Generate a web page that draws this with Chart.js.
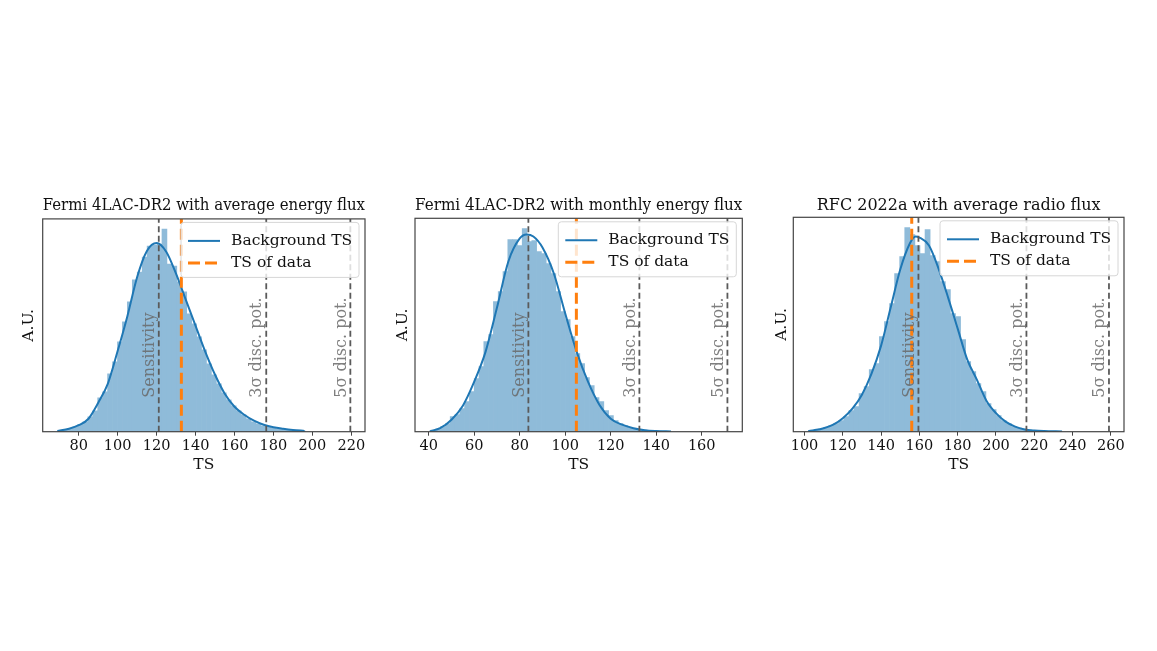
<!DOCTYPE html>
<html lang="en">
<head>
<meta charset="UTF-8">
<title>TS distributions</title>
<script src="https://cdn.jsdelivr.net/npm/chart.js"></script>
<style>
  body { margin: 0; background: #fff; width: 1157px; height: 651px; position: relative; overflow: hidden; }
  .panel { position: absolute; }
</style>
</head>
<body>
<div class="panel" style="left:10px; top:190px;"><canvas id="c1" width="365" height="290"></canvas></div>
<div class="panel" style="left:383px; top:190px;"><canvas id="c2" width="370" height="290"></canvas></div>
<div class="panel" style="left:762px; top:190px;"><canvas id="c3" width="372" height="290"></canvas></div>

<script>
// ---- data ----
const titles = [
  'Fermi 4LAC-DR2 with average energy flux',
  'Fermi 4LAC-DR2 with monthly energy flux',
  'RFC 2022a with average radio flux'
];
const lineLabels = ['Sensitivity', '3\u03c3 disc. pot.', '5\u03c3 disc. pot.'];

// panel 1
const ticks1 = [80, 100, 120, 140, 160, 180, 200, 220];
const histRange1 = [69.4, 196.4];
const hist1 = [1, 2, 3.5, 5, 7.5, 10, 15, 21, 34, 40,
               58, 70, 90, 110, 130, 152, 160, 175, 186, 187,
               188, 203, 168, 166, 150, 140, 118, 108, 95, 82,
               68, 57, 48, 39, 32, 26, 21, 17, 13, 10,
               8, 6, 5, 4, 3, 2.3, 1.7, 1.2, 0.8, 0.5];
const curveX1 = [69, 75, 80, 85, 90, 95, 100, 105, 110, 115, 120, 125, 130, 135, 140, 145, 150, 155, 160, 165, 170, 175, 180, 185, 190, 196];
const curveY1 = [0.7, 3, 6.5, 13, 29, 48.5, 81, 116, 155, 181, 189, 180, 158, 132, 106, 80, 57, 38, 25, 17, 11, 7, 4.5, 3, 1.8, 0.8];
const sens1 = 121.1, data1 = 132.7, disc3_1 = 176.3, disc5_1 = 219.5;

// panel 2
const ticks2 = [40, 60, 80, 100, 120, 140, 160];
const histRange2 = [41, 146.5];
const hist2 = [1.5, 2.5, 5, 8, 15, 17, 23, 30, 40, 53,
               65, 90, 97, 130, 140, 160, 192, 192, 186, 203,
               190, 191, 180, 178, 168, 158, 140, 120, 112, 95,
               78, 68, 54, 46, 34, 30, 21, 16, 11, 8,
               6, 4, 3, 2, 1.5, 1, 0.7, 0.5, 0.3, 0.3];
const curveX2 = [40.5, 45, 50, 55, 60, 65, 70, 75, 80, 83, 86, 90, 95, 100, 105, 110, 115, 120, 125, 130, 135, 140, 146.5];
const curveY2 = [0.5, 3.5, 12, 26, 50, 80, 124, 170, 193, 197, 195, 184, 158, 118, 80, 50, 27, 13, 7, 3.5, 1.5, 0.7, 0.3];
const sens2 = 83.8, data2 = 104.9, disc3_2 = 132.6, disc5_2 = 171.3;

// panel 3
const ticks3 = [100, 120, 140, 160, 180, 200, 220, 240, 260];
const histRange3 = [102, 234.5];
const hist3 = [1, 1.5, 2.5, 4, 6, 8, 11, 15, 21, 25,
               38, 45, 62, 68, 95, 110, 128, 158, 175, 204,
               197, 186, 178, 202, 176, 170, 150, 142, 118, 115,
               92, 70, 60, 48, 40, 28, 22, 16, 11, 8,
               5, 3.5, 2.5, 1.5, 1, 0.7, 0.5, 0.3, 0.2, 0.2];
const curveX3 = [102, 105, 110, 115, 120, 125, 130, 135, 140, 145, 150, 155, 158, 160, 165, 170, 175, 180, 185, 190, 195, 200, 205, 210, 215, 220, 225, 234.5];
const curveY3 = [0.7, 1.5, 3.5, 7, 13.5, 23, 37, 58, 86, 124, 162, 188, 195, 194, 186, 163, 134, 103, 72, 52, 31, 18.5, 10, 5, 2.3, 1.2, 0.7, 0.3];
const sens3 = 159.5, data3 = 156.0, disc3_3 = 215.9, disc5_3 = 259;

const FONT = '"DejaVu Serif", serif';
const BLUE = '#1f77b4', ORANGE = '#ff7f0e', GREY = '#5a5a5a';
const HIST = '#8fbbd9'; // tab:blue at alpha 0.5 on white

// frame around the plot area (matplotlib spines)
const frame = {
  id: 'frame',
  afterDatasetsDraw(chart) {
    const {ctx, chartArea: a} = chart;
    ctx.save();
    ctx.strokeStyle = '#444';
    ctx.lineWidth = 1.2;
    ctx.strokeRect(a.left, a.top, a.right - a.left, a.bottom - a.top);
    ctx.restore();
  }
};

// rotated labels next to the grey lines
const annotate = {
  id: 'annotate',
  afterDatasetsDraw(chart, args, opts) {
    const {ctx, chartArea: a, scales: {x}} = chart;
    ctx.save();
    ctx.font = '16px ' + FONT;
    ctx.fillStyle = 'rgba(105,105,105,0.85)';
    ctx.textAlign = 'left';
    ctx.textBaseline = 'bottom';
    opts.values.forEach((v, i) => {
      ctx.save();
      ctx.translate(x.getPixelForValue(v) - 1, a.bottom - 34);
      ctx.rotate(-Math.PI / 2);
      ctx.fillText(lineLabels[i], 0, 0);
      ctx.restore();
    });
    ctx.restore();
  }
};

// legend box in the upper right corner
const legendBox = {
  id: 'legendBox',
  afterDraw(chart) {
    const {ctx, chartArea: a} = chart;
    const w = 178, h = 55;
    const x0 = a.right - 6 - w, y0 = a.top + 3.5;
    ctx.save();
    ctx.beginPath();
    ctx.roundRect(x0, y0, w, h, 3);
    ctx.fillStyle = 'rgba(255,255,255,0.8)';
    ctx.fill();
    ctx.strokeStyle = '#d6d6d6';
    ctx.lineWidth = 1;
    ctx.stroke();

    ctx.lineWidth = 2;
    ctx.strokeStyle = BLUE;
    ctx.beginPath();
    ctx.moveTo(x0 + 7, y0 + 18.5);
    ctx.lineTo(x0 + 39, y0 + 18.5);
    ctx.stroke();

    ctx.lineWidth = 3;
    ctx.strokeStyle = ORANGE;
    ctx.setLineDash([12, 5]);
    ctx.beginPath();
    ctx.moveTo(x0 + 7, y0 + 40.5);
    ctx.lineTo(x0 + 39, y0 + 40.5);
    ctx.stroke();
    ctx.setLineDash([]);

    ctx.fillStyle = '#111';
    ctx.font = '15.5px ' + FONT;
    ctx.textBaseline = 'middle';
    ctx.fillText('Background TS', x0 + 50, y0 + 18.5);
    ctx.fillText('TS of data', x0 + 50, y0 + 40.5);
    ctx.restore();
  }
};

function makeChart(id, title, ticks, histRange, hist, curveX, curveY, lines, g) {
  const n = hist.length;
  const bw = (histRange[1] - histRange[0]) / n;
  const histPts = hist.map((v, i) => ({x: histRange[0] + (i + 0.5) * bw, y: v}));
  const curvePts = curveX.map((v, i) => ({x: v, y: curveY[i]}));
  const yMax = Math.max(...hist) * 1.05;
  const lo = Math.min(histRange[0], curveX[0]);
  const hi = Math.max(histRange[1], curveX[curveX.length - 1], ...lines);
  const pad = (hi - lo) * 0.05;

  const vline = (v, color, width, dash) => ({
    type: 'line',
    data: [{x: v, y: 0}, {x: v, y: yMax}],
    borderColor: color,
    borderWidth: width,
    borderDash: dash,
    pointRadius: 0,
    order: 1
  });

  return new Chart(document.getElementById(id), {
    type: 'bar',
    data: {
      datasets: [
        {
          type: 'bar',
          data: histPts,
          backgroundColor: HIST,
          borderWidth: 0,
          barPercentage: 1,
          categoryPercentage: 1,
          order: 3
        },
        {
          type: 'line',
          data: curvePts,
          borderColor: BLUE,
          borderWidth: 2,
          pointRadius: 0,
          cubicInterpolationMode: 'monotone',
          order: 2
        },
        vline(lines[0], GREY, 1.8, [6, 3.5]),
        vline(lines[2], GREY, 1.8, [6, 3.5]),
        vline(lines[3], GREY, 1.8, [6, 3.5]),
        vline(lines[1], ORANGE, 3, [11, 5])
      ]
    },
    options: {
      responsive: false,
      animation: false,
      events: [],
      devicePixelRatio: 1,
      layout: {padding: {left: 0, right: g.padRight, top: 0, bottom: 0}},
      scales: {
        x: {
          type: 'linear',
          min: lo - pad,
          max: hi + pad,
          offset: false,
          afterBuildTicks: s => { s.ticks = ticks.map(v => ({value: v})); },
          afterFit: s => { s.height = g.xHeight; },
          ticks: {font: {family: FONT, size: 14.5}, color: '#111', padding: 2, maxRotation: 0, autoSkip: false},
          grid: {drawOnChartArea: false, drawTicks: true, tickLength: 4, color: '#444', offset: false},
          border: {display: false},
          title: {display: true, text: 'TS', font: {family: FONT, size: 15.5}, color: '#111', padding: {top: 0, bottom: 6}}
        },
        y: {
          min: 0,
          max: yMax,
          afterFit: s => { s.width = g.yWidth; },
          ticks: {display: false},
          grid: {display: false},
          border: {display: false},
          title: {display: true, text: 'A.U.', font: {family: FONT, size: 15.5}, color: '#111', padding: {top: g.yTitlePad, bottom: 0}}
        }
      },
      plugins: {
        legend: {display: false},
        tooltip: {enabled: false},
        title: {
          display: true,
          fullSize: false,
          text: title,
          color: '#111',
          font: {family: FONT, size: 16, weight: 'normal'},
          lineHeight: 1.15,
          padding: {top: 6.5, bottom: g.titleBottom}
        },
        annotate: {values: [lines[0], lines[2], lines[3]]}
      }
    },
    plugins: [frame, annotate, legendBox]
  });
}

makeChart('c1', titles[0], ticks1, histRange1, hist1, curveX1, curveY1,
  [sens1, data1, disc3_1, disc5_1],
  {padRight: 10, xHeight: 48.3, yWidth: 32.7, yTitlePad: 10, titleBottom: 3.2});
makeChart('c2', titles[1], ticks2, histRange2, hist2, curveX2, curveY2,
  [sens2, data2, disc3_2, disc5_2],
  {padRight: 10.7, xHeight: 48.3, yWidth: 32, yTitlePad: 11, titleBottom: 2.6});
makeChart('c3', titles[2], ticks3, histRange3, hist3, curveX3, curveY3,
  [sens3, data3, disc3_3, disc5_3],
  {padRight: 10, xHeight: 48.3, yWidth: 31.3, yTitlePad: 11, titleBottom: 1.6});
</script>
</body>
</html>
